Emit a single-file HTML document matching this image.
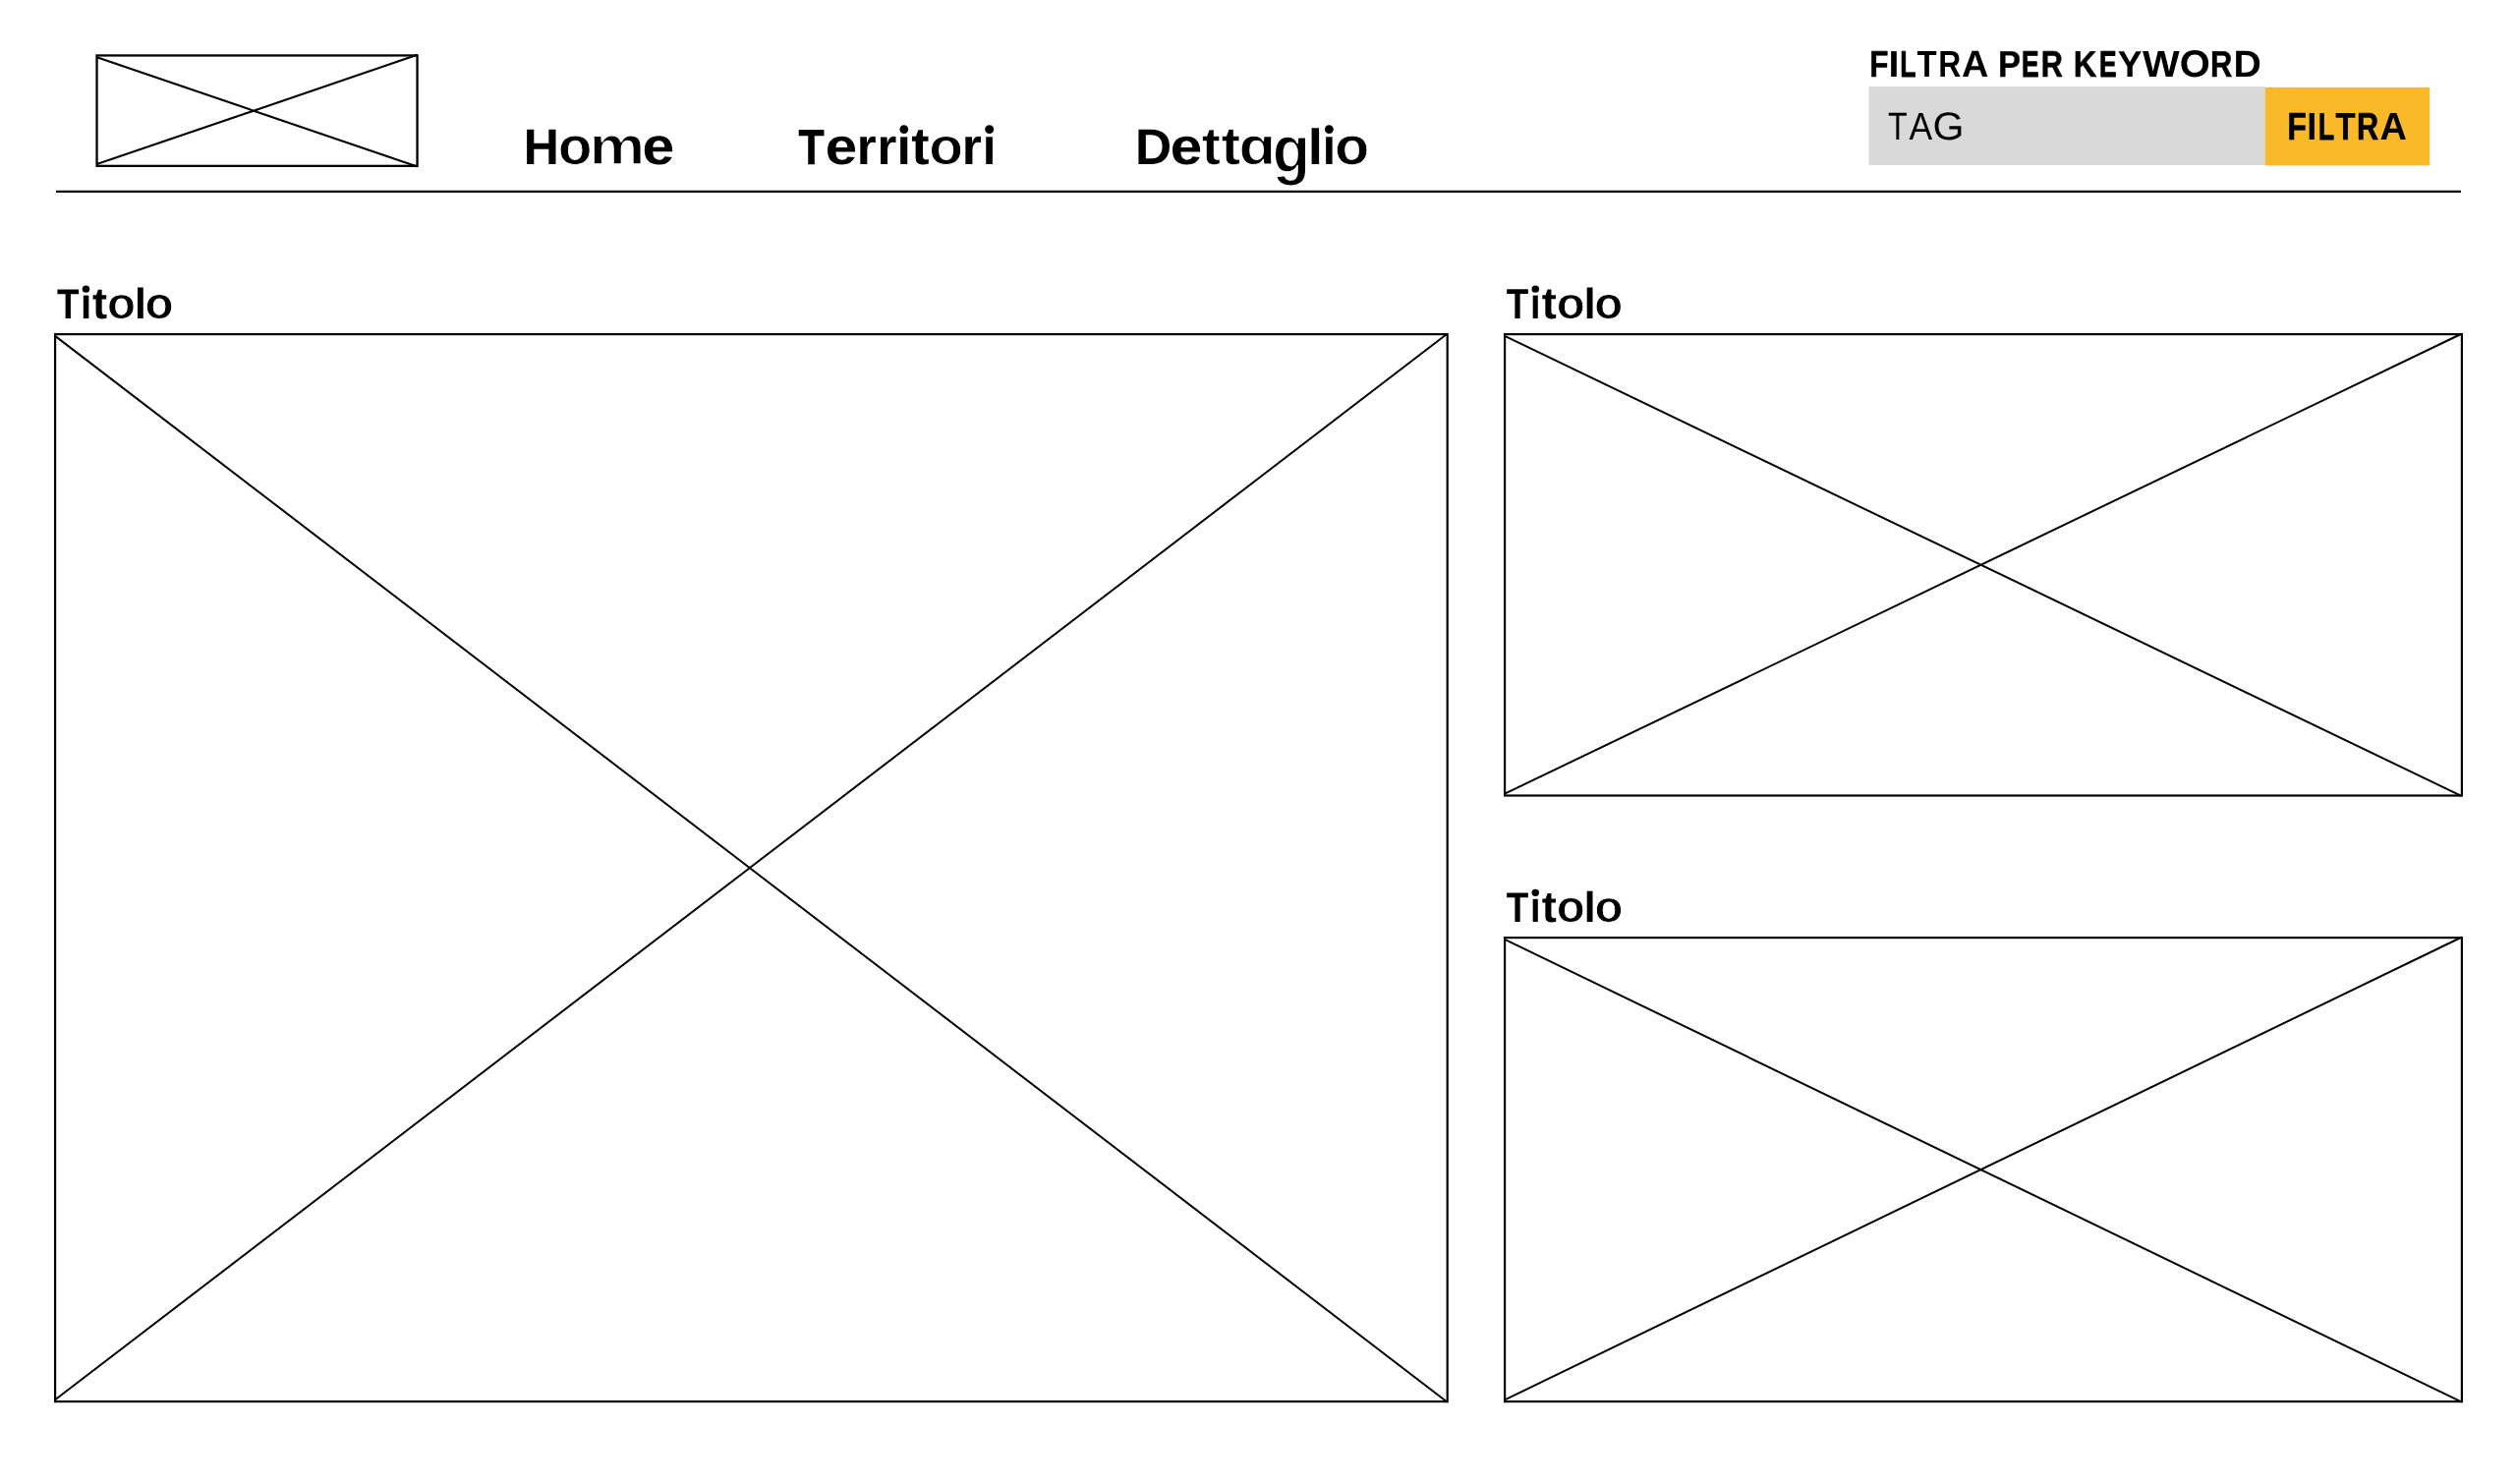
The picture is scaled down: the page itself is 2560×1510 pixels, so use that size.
<!DOCTYPE html>
<html><head><meta charset="utf-8"><title>Wireframe</title>
<style>
html,body{margin:0;padding:0;background:#fff;}
body{width:2560px;height:1510px;overflow:hidden;}
svg{display:block;will-change:transform;font-family:"Liberation Sans",sans-serif;text-rendering:geometricPrecision;}
</style></head><body>
<svg width="2560" height="1510" viewBox="0 0 2560 1510">
<rect width="2560" height="1510" fill="#fff"/>
<rect x="98.55" y="56.45" width="326.00" height="112.40" fill="none" stroke="#000" stroke-width="2.3"/>
<path d="M98.55 58.25L424.55 169.45M424.55 55.85L98.55 167.05" stroke="#000" stroke-width="2.1" fill="none"/>
<rect x="57" y="193.8" width="2447" height="2.2" fill="#000"/>
<rect x="56.10" y="340.10" width="1416.60" height="1086.00" fill="none" stroke="#000" stroke-width="2.2"/>
<path d="M56.10 341.90L1472.70 1426.70M1472.70 339.50L56.10 1424.30" stroke="#000" stroke-width="2.0" fill="none"/>
<rect x="1531.10" y="340.10" width="973.80" height="469.40" fill="none" stroke="#000" stroke-width="2.2"/>
<path d="M1531.10 341.90L2504.90 810.10M2504.90 339.50L1531.10 807.70" stroke="#000" stroke-width="2.0" fill="none"/>
<rect x="1531.10" y="954.10" width="973.80" height="472.00" fill="none" stroke="#000" stroke-width="2.2"/>
<path d="M1531.10 955.90L2504.90 1426.70M2504.90 953.50L1531.10 1424.30" stroke="#000" stroke-width="2.0" fill="none"/>
<rect x="1901.6" y="88.1" width="403.4" height="79.9" fill="#D9D9D9"/>
<rect x="2304.8" y="88.9" width="167.3" height="79.5" fill="#F9B928"/>
<g fill="#000" stroke-linejoin="round">
<g aria-label="Home">
<text transform="translate(532.73 166.90) scale(0.9804 1.0067)" font-size="51.02" font-weight="700">H</text>
<text transform="translate(568.05 166.90) scale(1.1020 1.0542)" font-size="51.02" font-weight="700" stroke="#fff" stroke-width="0.70">o</text>
<text transform="translate(599.47 166.90) scale(1.2552 1.0624)" font-size="51.02" font-weight="700" stroke="#fff" stroke-width="1.40">m</text>
<text transform="translate(653.61 166.90) scale(1.1524 1.0435)" font-size="51.02" font-weight="700">e</text>
</g>
<g aria-label="Territori">
<text transform="translate(812.59 167.00) scale(0.8397 0.9899)" font-size="50.87" font-weight="700" stroke="#000" stroke-width="0.60">T</text>
<text transform="translate(839.72 167.00) scale(1.1441 1.0329)" font-size="50.87" font-weight="700">e</text>
<text transform="translate(871.80 167.00) scale(1.0053 1.0304)" font-size="50.87" font-weight="700">r</text>
<text transform="translate(892.46 167.00) scale(0.9995 1.0270)" font-size="50.87" font-weight="700">r</text>
<text transform="translate(912.60 167.00) scale(1.0150 1.0294)" font-size="50.87" font-weight="700">ı</text>
<text transform="translate(927.32 167.00) scale(1.0786 1.0470)" font-size="50.87" font-weight="700">t</text>
<text transform="translate(945.33 167.00) scale(1.1166 1.0435)" font-size="50.87" font-weight="700" stroke="#fff" stroke-width="0.90">o</text>
<text transform="translate(978.84 167.00) scale(1.0143 1.0330)" font-size="50.87" font-weight="700">r</text>
<text transform="translate(999.78 167.00) scale(0.9606 1.0318)" font-size="50.87" font-weight="700">ı</text>
</g>
<g aria-label="Dettaglio">
<text transform="translate(1154.94 167.30) scale(0.9947 0.9927)" font-size="51.75" font-weight="700">D</text>
<text transform="translate(1190.65 167.30) scale(1.1270 1.0190)" font-size="51.75" font-weight="700">e</text>
<text transform="translate(1223.12 167.30) scale(1.0884 1.0391)" font-size="51.75" font-weight="700" stroke="#fff" stroke-width="0.50">t</text>
<text transform="translate(1242.68 167.30) scale(1.1125 1.0429)" font-size="51.75" font-weight="700" stroke="#fff" stroke-width="0.50">t</text>
<text transform="translate(1260.47 167.30) scale(1.1892 1.0363)" font-size="51.75" font-weight="700" stroke="#fff" stroke-width="1.00">ɑ</text>
<text transform="translate(1294.81 174.68) scale(1.2111 1.2911)" font-size="51.75" font-weight="700" stroke="#fff" stroke-width="1.10">g</text>
<text transform="translate(1330.67 167.30) scale(1.0629 0.9807)" font-size="51.75" font-weight="700">l</text>
<text transform="translate(1345.65 167.30) scale(0.9167 1.0136)" font-size="51.75" font-weight="700">ı</text>
<text transform="translate(1358.32 167.30) scale(1.1011 1.0349)" font-size="51.75" font-weight="700" stroke="#fff" stroke-width="0.60">o</text>
</g>
<g aria-label="FILTRA PER KEYWORD">
<text transform="translate(1902.19 78.20) scale(0.8197 0.9808)" font-size="38.37" font-weight="700" stroke="#000" stroke-width="0.60">F</text>
<text transform="translate(1921.48 78.20) scale(1.0233 0.9819)" font-size="38.37" font-weight="700">I</text>
<text transform="translate(1933.21 78.20) scale(0.6958 0.9808)" font-size="38.37" font-weight="700" stroke="#000" stroke-width="0.80">L</text>
<text transform="translate(1950.57 78.20) scale(0.8558 0.9906)" font-size="38.37" font-weight="700">T</text>
<text transform="translate(1972.15 78.20) scale(0.8300 0.9900)" font-size="38.37" font-weight="700">R</text>
<text transform="translate(1996.09 78.20) scale(0.9902 0.9925)" font-size="38.37" font-weight="700">A</text>
<text transform="translate(2032.96 78.20) scale(0.8976 0.9798)" font-size="38.37" font-weight="700" stroke="#000" stroke-width="0.40">P</text>
<text transform="translate(2056.98 78.20) scale(0.6881 0.9772)" font-size="38.37" font-weight="700" stroke="#000" stroke-width="1.00">E</text>
<text transform="translate(2076.78 78.20) scale(0.7984 0.9798)" font-size="38.37" font-weight="700" stroke="#000" stroke-width="0.60">R</text>
<text transform="translate(2109.85 78.20) scale(0.8544 0.9790)" font-size="38.37" font-weight="700" stroke="#000" stroke-width="0.50">K</text>
<text transform="translate(2136.00 78.20) scale(0.6865 0.9717)" font-size="38.37" font-weight="700" stroke="#000" stroke-width="1.00">E</text>
<text transform="translate(2154.67 78.20) scale(0.9667 0.9809)" font-size="38.37" font-weight="700">Y</text>
<text transform="translate(2179.93 78.20) scale(1.0401 0.9900)" font-size="38.37" font-weight="700">W</text>
<text transform="translate(2217.87 78.20) scale(1.0409 1.0043)" font-size="38.37" font-weight="700">O</text>
<text transform="translate(2248.98 78.20) scale(0.8064 0.9793)" font-size="38.37" font-weight="700" stroke="#000" stroke-width="0.50">R</text>
<text transform="translate(2272.52 78.20) scale(1.0222 0.9925)" font-size="38.37" font-weight="700">D</text>
</g>
<g aria-label="TAG">
<text transform="translate(1921.10 141.70) scale(0.8267 1.0139)" font-size="38.95" font-weight="400">T</text>
<text transform="translate(1942.46 141.70) scale(0.9092 1.0073)" font-size="38.95" font-weight="400">A</text>
<text transform="translate(1966.45 141.70) scale(1.0542 1.0212)" font-size="38.95" font-weight="400">G</text>
</g>
<g aria-label="FILTRA">
<text transform="translate(2327.37 141.80) scale(0.8229 1.0050)" font-size="38.95" font-weight="700" stroke="#000" stroke-width="0.60">F</text>
<text transform="translate(2347.34 141.80) scale(0.9253 1.0077)" font-size="38.95" font-weight="700">I</text>
<text transform="translate(2359.12 141.80) scale(0.6753 0.9891)" font-size="38.95" font-weight="700" stroke="#000" stroke-width="0.90">L</text>
<text transform="translate(2376.42 141.80) scale(0.8404 1.0036)" font-size="38.95" font-weight="700" stroke="#000" stroke-width="0.40">T</text>
<text transform="translate(2398.01 141.80) scale(0.7870 1.0018)" font-size="38.95" font-weight="700" stroke="#000" stroke-width="0.60">R</text>
<text transform="translate(2421.54 141.80) scale(0.9757 1.0093)" font-size="38.95" font-weight="700">A</text>
</g>
<g aria-label="Titolo">
<text transform="translate(57.92 323.70) scale(0.8604 1.0010)" font-size="42.88" font-weight="700">T</text>
<text transform="translate(81.97 323.70) scale(0.9339 1.0332)" font-size="42.88" font-weight="700">ı</text>
<text transform="translate(93.90 323.70) scale(1.0515 1.0437)" font-size="42.88" font-weight="700">t</text>
<text transform="translate(108.92 323.70) scale(1.1051 1.0507)" font-size="42.88" font-weight="700" stroke="#fff" stroke-width="0.80">o</text>
<text transform="translate(137.00 323.70) scale(0.9892 1.0142)" font-size="42.88" font-weight="700">l</text>
<text transform="translate(147.45 323.70) scale(1.1092 1.0560)" font-size="42.88" font-weight="700" stroke="#fff" stroke-width="0.80">o</text>
</g>
<g aria-label="Titolo">
<text transform="translate(1532.72 323.70) scale(0.8598 1.0130)" font-size="42.88" font-weight="700">T</text>
<text transform="translate(1557.02 323.70) scale(0.8749 1.0329)" font-size="42.88" font-weight="700">ı</text>
<text transform="translate(1568.74 323.70) scale(1.0521 1.0516)" font-size="42.88" font-weight="700">t</text>
<text transform="translate(1583.79 323.70) scale(1.1049 1.0518)" font-size="42.88" font-weight="700" stroke="#fff" stroke-width="0.80">o</text>
<text transform="translate(1611.76 323.70) scale(0.9885 1.0142)" font-size="42.88" font-weight="700">l</text>
<text transform="translate(1622.23 323.70) scale(1.1050 1.0533)" font-size="42.88" font-weight="700" stroke="#fff" stroke-width="0.80">o</text>
</g>
<g aria-label="Titolo">
<text transform="translate(1532.71 937.85) scale(0.8604 1.0039)" font-size="42.88" font-weight="700">T</text>
<text transform="translate(1557.04 937.85) scale(0.8760 1.0258)" font-size="42.88" font-weight="700">ı</text>
<text transform="translate(1568.69 937.85) scale(1.0518 1.0398)" font-size="42.88" font-weight="700">t</text>
<text transform="translate(1583.71 937.85) scale(1.1033 1.0572)" font-size="42.88" font-weight="700" stroke="#fff" stroke-width="0.80">o</text>
<text transform="translate(1611.63 937.85) scale(0.9872 1.0088)" font-size="42.88" font-weight="700">l</text>
<text transform="translate(1622.39 937.85) scale(1.1037 1.0505)" font-size="42.88" font-weight="700" stroke="#fff" stroke-width="0.80">o</text>
</g>
<ellipse cx="919.80" cy="131.55" rx="4.40" ry="4.35"/>
<ellipse cx="1006.70" cy="131.55" rx="4.50" ry="4.35"/>
<ellipse cx="1352.35" cy="131.55" rx="4.45" ry="4.35"/>
<ellipse cx="87.45" cy="294.20" rx="3.75" ry="3.60"/>
<ellipse cx="1562.25" cy="294.20" rx="3.75" ry="3.60"/>
<ellipse cx="1562.25" cy="908.35" rx="3.75" ry="3.60"/>
</g>
</svg>
</body></html>
